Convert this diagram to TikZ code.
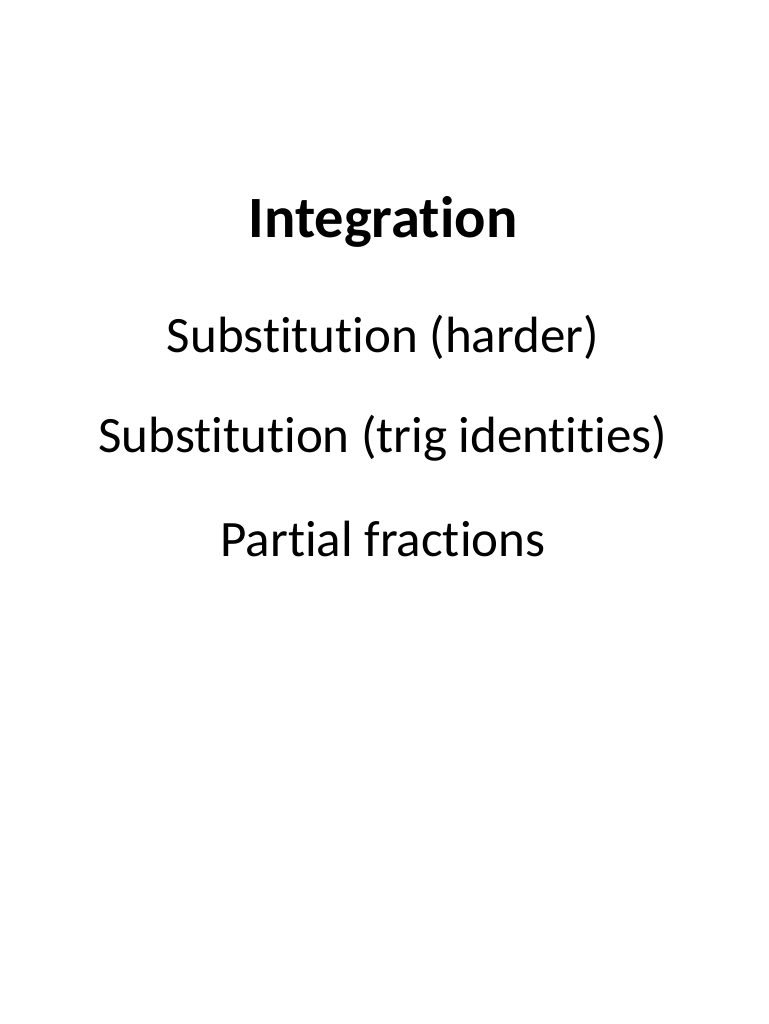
\documentclass[tikz,border=0pt]{standalone}
\usepackage{fontspec}
\setmainfont[Ligatures={NoCommon,NoRequired}]{Carlito}
\begin{document}
\begin{tikzpicture}[x=1pt,y=-1pt,
  item/.style={inner sep=0pt,font=\fontsize{51}{60}\selectfont}]
\useasboundingbox[fill=white] (0,0) rectangle (768,1024);
\node[item,font=\fontsize{58.5}{66}\selectfont\bfseries] (t) at (383,222) {Integration};
\node[item] (a) at (383,337) {Substitution (harder)};
\node[item] (b) at (383,438) {Substitution (trig identities)};
\node[item] (c) at (383,539) {Partial fractions};
\end{tikzpicture}
\end{document}
